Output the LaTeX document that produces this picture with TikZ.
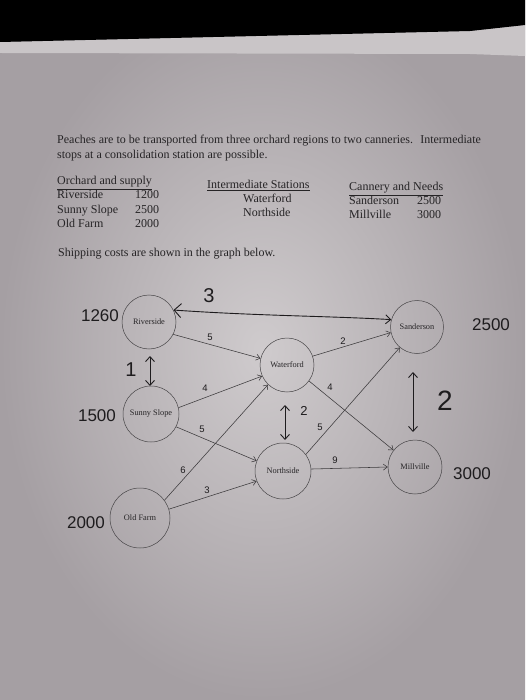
\documentclass[tikz,border=0pt]{standalone}
\usepackage{fontspec}
\setmainfont{Liberation Serif}
\newfontfamily\handfont{Liberation Sans}
\usetikzlibrary{arrows.meta}
\definecolor{paperlight}{HTML}{CFCBCD}
\definecolor{paperdark}{HTML}{A59FA3}
\definecolor{foldc}{HTML}{C9C5C7}
\definecolor{ink}{HTML}{262426}
\definecolor{pen}{HTML}{1E1C1E}
\tikzset{
  doc/.style={anchor=base west, inner sep=0pt, text=ink, font=\fontsize{12}{14}\selectfont},
  place/.style={circle, draw=ink!85, line width=0.5pt, inner sep=0pt, text=ink, font=\fontsize{8.3}{10}\selectfont},
  edge/.style={draw=ink!90, line width=0.55pt, -{Straight Barb[length=4pt,width=6pt]}},
  cost/.style={inner sep=0pt, text=pen, font=\handfont\fontsize{9.5}{10}\selectfont},
  amount/.style={inner sep=0pt, text=pen, font=\handfont\fontsize{17}{18}\selectfont},
  handarrow/.style={draw=pen, line width=0.9pt, {Straight Barb[length=5pt,width=9pt]}-{Straight Barb[length=5pt,width=9pt]}}
}
\begin{document}
\begin{tikzpicture}[x=1pt,y=-1pt]
\useasboundingbox (0,0) rectangle (525,700);
\shade[inner color=paperlight, outer color=paperdark] (0,0) rectangle (525,700);
\fill[foldc] (0,42) -- (470,31) -- (525,25) -- (525,56) -- (470,54) -- (0,53) -- cycle;
\fill[black] (0,0) -- (525,0) -- (525,25) -- (470,31) -- (0,42) -- cycle;

% header text
\node[doc] (l1) at (57,144) {Peaches are to be transported from three orchard regions to two canneries.\hspace{0.6em}Intermediate};
\node[doc] (l2) at (57,158.5) {stops at a consolidation station are possible.};

\node[doc] (h1) at (57,185) {\underline{Orchard and supply}};
\node[doc] (r1) at (57,199) {Riverside};
\node[doc] (r2) at (57,214) {Sunny Slope};
\node[doc] (r3) at (57,228) {Old Farm};
\node[doc] (v1) at (135,199) {1200};
\node[doc] (v2) at (135,214) {2500};
\node[doc] (v3) at (135,228) {2000};

\node[doc] (h2) at (207,189) {\underline{Intermediate Stations}};
\node[doc] (s1) at (243,203) {Waterford};
\node[doc] (s2) at (243,217) {Northside};

\node[doc] (h3) at (349,191) {\underline{Cannery and Needs}};
\node[doc] (c1) at (349,205) {Sanderson};
\node[doc] (c2) at (349,219) {Millville};
\node[doc] (n1) at (417,205) {2500};
\node[doc] (n2) at (417,219) {3000};

\node[doc] (ship) at (58,257) {Shipping costs are shown in the graph below.};

% graph nodes
\node[place, minimum size=54pt] (riv) at (149,322) {Riverside};
\node[place, minimum size=53pt] (san) at (417,327) {Sanderson};
\node[place, minimum size=54pt] (wat) at (287,365) {Waterford};
\node[place, minimum size=56pt] (sun) at (151,414) {Sunny Slope};
\node[place, minimum size=56pt] (nor) at (283,471) {Northside};
\node[place, minimum size=54pt] (mil) at (415,467) {Millville};
\node[place, minimum size=60pt] (old) at (140,518) {Old Farm};

% edges
\draw[edge] (riv.-27) -- (wat.166);
\draw[edge] (wat.19) -- (san.-168);
\draw[edge] (sun.13) -- (wat.-156);
\draw[edge] (wat.-36) -- (mil.142);
\draw[edge] (sun.-27) -- (nor.159);
\draw[edge] (nor.36) -- (san.-130);
\draw[edge] (old.36) -- (wat.-134);
\draw[edge] (old.17) -- (nor.-159);
\draw[edge] (nor.4) -- (mil.180);

% edge costs
\node[cost] (k1) at (210,337) {5};
\node[cost] (k2) at (343,341) {2};
\node[cost] (k3) at (205,388) {4};
\node[cost] (k4) at (330,387) {4};
\node[cost] (k5) at (202,429) {5};
\node[cost] (k6) at (320,427) {5};
\node[cost] (k7) at (183,470) {6};
\node[cost] (k8) at (207,490) {3};
\node[cost] (k9) at (335,460) {9};

% handwritten amounts
\node[amount] (a1) at (100,316) {1260};
\node[amount] (a2) at (491,325) {2500};
\node[amount] (a3) at (97,416) {1500};
\node[amount] (a4) at (86,523) {2000};
\node[amount] (a5) at (472,474) {3000};

% handwritten arrows
\draw[draw=pen, line width=0.9pt, {Straight Barb[length=7pt,width=14pt]}-{Straight Barb[length=5pt,width=9pt]}]
  (riv.26) .. controls (260,316) and (330,316) .. (san.164);
\node[inner sep=0pt, text=pen, font=\handfont\fontsize{20}{20}\selectfont] (t3) at (209,296) {3};

\coordinate (p1) at (150,356);
\coordinate (p2) at (150,386);
\draw[handarrow] (p1) -- (p2);
\node[inner sep=0pt, text=pen, font=\handfont\fontsize{20}{20}\selectfont] (t1) at (131,370) {1};

\coordinate (q1) at (285,405);
\coordinate (q2) at (285,440);
\draw[handarrow] (q1) -- (q2);
\node[inner sep=0pt, text=pen, font=\handfont\fontsize{13}{13}\selectfont] (t2) at (304,411) {2};

\coordinate (w1) at (413,372);
\coordinate (w2) at (413,432);
\draw[handarrow] (w1) -- (w2);
\node[inner sep=0pt, text=pen, font=\handfont\fontsize{28}{28}\selectfont] (t4) at (445,401) {2};
\end{tikzpicture}
\end{document}
